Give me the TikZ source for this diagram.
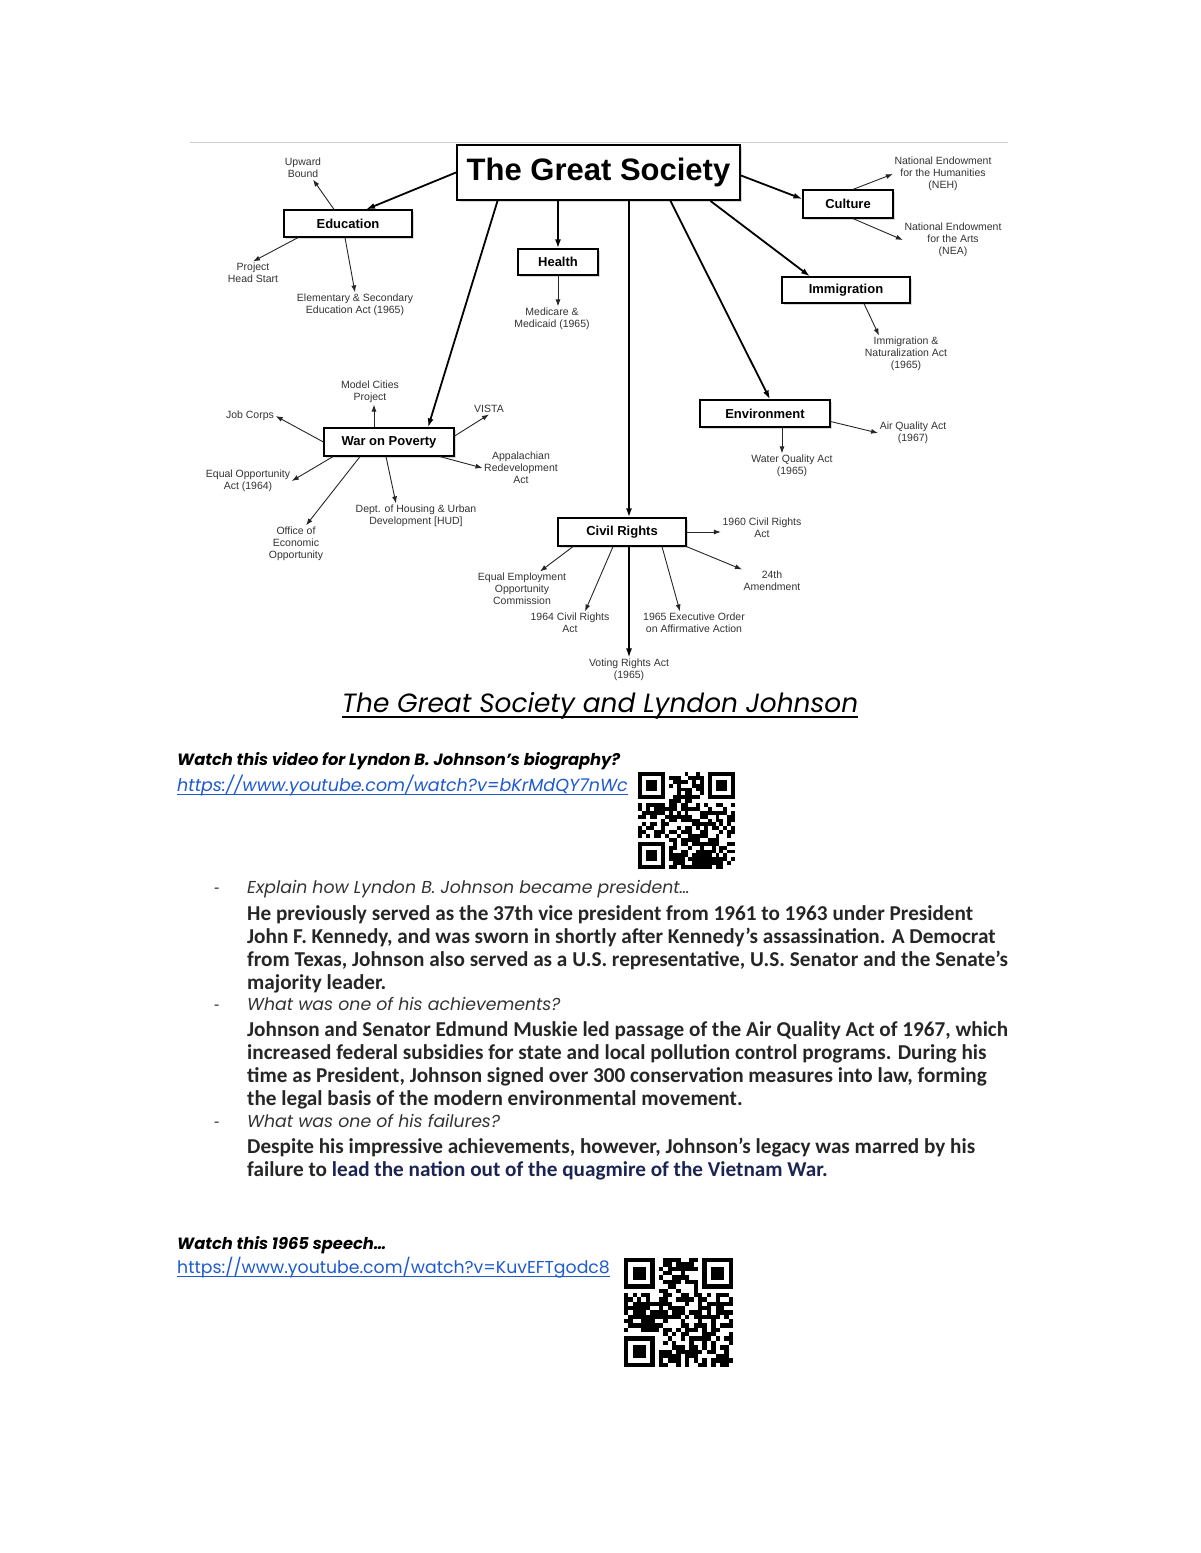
\documentclass[tikz,border=0pt]{standalone}
\usepackage{fontspec}
\setmainfont{Liberation Sans}
\newfontfamily\geofont{Poppins}
\newfontfamily\bodyfont{Carlito}
\usepackage{xcolor}
\usetikzlibrary{arrows.meta,positioning,shadows}

\definecolor{linkblue}{HTML}{1F5BD0}
\definecolor{bodygray}{HTML}{262626}
\definecolor{navytext}{HTML}{1C2552}

% QR-like block: x, y, module size, seed
\newcommand{\qrblock}[4]{%
  \pgfmathsetseed{#4}
  \foreach \i in {0,...,24}{
    \foreach \j in {0,...,24}{
      \pgfmathrandominteger{\qrbit}{0}{4}
      \pgfmathtruncatemacro{\infinder}{(\i<8 && \j<8) || (\i>16 && \j<8) || (\i<8 && \j>16)}
      \ifnum\infinder=0 \ifnum\qrbit>1
        \fill (#1+\i*#3, #2+\j*#3) rectangle ++(#3,#3);
      \fi\fi
    }
  }
  \foreach \a/\b in {0/0, 18/0, 0/18}{
    \fill (#1+\a*#3, #2+\b*#3) rectangle ++(7*#3, 7*#3);
    \fill[white] (#1+\a*#3+#3, #2+\b*#3+#3) rectangle ++(5*#3, 5*#3);
    \fill (#1+\a*#3+2*#3, #2+\b*#3+2*#3) rectangle ++(3*#3, 3*#3);
  }
}

\begin{document}
\begin{tikzpicture}[x=1pt, y=-1pt,
    topic/.style={draw, line width=1.2pt, fill=white, minimum height=27pt, inner sep=2pt,
      font=\bfseries\fontsize{13}{15}\selectfont,
      drop shadow={shadow xshift=1.5pt, shadow yshift=-1.5pt, fill=black!30}},
    leaf/.style={align=center, inner sep=1.5pt, text=black!80, font=\fontsize{10.5}{12}\selectfont},
    trunk/.style={line width=1.8pt, -{Latex[length=9pt,width=6pt]}},
    twig/.style={line width=0.9pt, black!85, -{Latex[length=7pt,width=5pt]}},
    prompt/.style={anchor=base west, inner sep=0, text=black!80, font=\geofont\itshape\fontsize{17.3}{20}\selectfont},
    answer/.style={anchor=north west, inner sep=0, align=left, text=bodygray, font=\bodyfont\bfseries\fontsize{21.2}{23}\selectfont},
    weblink/.style={anchor=base west, inner sep=0, text=linkblue, font=\geofont\fontsize{17.3}{20}\selectfont},
    heading/.style={anchor=base west, inner sep=0, text=black, font=\geofont\bfseries\itshape\fontsize{16.3}{18}\selectfont},
]
    \fill[white] (0,0) rectangle (1200,1553);
    \useasboundingbox (0,0) rectangle (1200,1553);

    % rule above the chart
    \draw[black!20, line width=1pt] (190,142) -- (1008,142);

    % topic boxes
    \node[topic, line width=2pt, minimum width=283pt, minimum height=55pt,
      font=\bfseries\fontsize{31}{36}\selectfont] (gs) at (598.5,172.5) {The Great Society};
    \node[topic, minimum width=128pt] (edu) at (348,223.5) {Education};
    \node[topic, minimum width=80pt, minimum height=26pt] (health) at (558,262) {Health};
    \node[topic, minimum width=90pt, minimum height=28pt] (cult) at (848,204) {Culture};
    \node[topic, minimum width=128pt, minimum height=26pt] (immig) at (846,290) {Immigration};
    \node[topic, minimum width=130pt] (env) at (765,413.5) {Environment};
    \node[topic, minimum width=130pt, minimum height=28pt] (wop) at (389,442) {War on Poverty};
    \node[topic, minimum width=128pt, minimum height=28pt] (civil) at (622,532) {Civil Rights};

    % programs and acts
    \node[leaf] (upbound) at (303,168) {Upward\\Bound};
    \node[leaf] (headstart) at (253,273) {Project\\Head Start};
    \node[leaf] (esea) at (355,305) {Elementary \& Secondary\\Education Act (1965)};
    \node[leaf] (medicare) at (552,319) {Medicare \&\\Medicaid (1965)};
    \node[leaf] (neh) at (943,174) {National Endowment\\for the Humanities\\(NEH)};
    \node[leaf] (nea) at (953,240) {National Endowment\\for the Arts\\(NEA)};
    \node[leaf] (ina) at (906,354) {Immigration \&\\Naturalization Act\\(1965)};
    \node[leaf] (airq) at (913,433) {Air Quality Act\\(1967)};
    \node[leaf] (waterq) at (792,466) {Water Quality Act\\(1965)};
    \node[leaf] (model) at (370,392) {Model Cities\\Project};
    \node[leaf] (jobcorps) at (250,416) {Job Corps};
    \node[leaf] (vista) at (489,409) {VISTA};
    \node[leaf] (eoa) at (248,481) {Equal Opportunity\\Act (1964)};
    \node[leaf] (appal) at (521,468) {Appalachian\\Redevelopment\\Act};
    \node[leaf] (hud) at (416,516) {Dept. of Housing \& Urban\\Development [HUD]};
    \node[leaf] (oeo) at (296,544) {Office of\\Economic\\Opportunity};
    \node[leaf] (cr60) at (762,528) {1960 Civil Rights\\Act};
    \node[leaf] (eeoc) at (522,589) {Equal Employment\\Opportunity\\Commission};
    \node[leaf] (amend) at (772,581) {24th\\Amendment};
    \node[leaf] (cr64) at (570,623) {1964 Civil Rights\\Act};
    \node[leaf] (exec) at (694,623) {1965 Executive Order\\on Affirmative Action};
    \node[leaf] (voting) at (629,670) {Voting Rights Act\\(1965)};

    % main branches
    \draw[trunk] (gs.west) -- ([xshift=18pt]edu.north);
    \draw[trunk] (gs.south -| health.north) -- (health.north);
    \draw[trunk] ([xshift=-101pt]gs.south) -- ([xshift=39pt]wop.north);
    \draw[trunk] (gs.south -| voting.north) -- (civil.north -| voting.north);
    \draw[trunk] ([xshift=72pt]gs.south) -- ([xshift=5pt]env.north);
    \draw[trunk] ([xshift=112pt]gs.south) -- ([xshift=-36pt]immig.north);
    \draw[trunk] ([yshift=-3pt]gs.east) -- ([yshift=5pt]cult.west);

    % education
    \draw[twig] ([xshift=-14pt]edu.north) -- ([xshift=10pt]upbound.south);
    \draw[twig] ([xshift=-50pt]edu.south) -- (headstart.north);
    \draw[twig] ([xshift=-3pt]edu.south) -- (esea.north);
    % health
    \draw[twig] (health.south) -- (health.south |- medicare.north);
    % culture
    \draw[twig] ([xshift=5pt]cult.north) -- (neh.west);
    \draw[twig] ([xshift=5pt]cult.south) -- (nea.west);
    % immigration
    \draw[twig] ([xshift=18pt]immig.south) -- ([xshift=-27pt]ina.north);
    % environment
    \draw[twig] ([xshift=17pt]env.south) -- ([xshift=17pt]env.south |- waterq.north);
    \draw[twig] ([yshift=-8pt]env.east) -- (airq.west);
    % war on poverty
    \draw[twig] ([xshift=-15pt]wop.north) -- ([xshift=4pt]model.south);
    \draw[twig] (wop.west) -- (jobcorps.east);
    \draw[twig] ([yshift=6pt]wop.east) -- (vista.south);
    \draw[twig] ([xshift=51pt]wop.south) -- (appal.west);
    \draw[twig] ([xshift=-3pt]wop.south) -- ([xshift=-20pt]hud.north);
    \draw[twig] ([xshift=-56pt]wop.south) -- (eoa.east);
    \draw[twig] ([xshift=-29pt]wop.south) -- ([xshift=10pt]oeo.north);
    % civil rights
    \draw[twig] (civil.east) -- (civil.east -| cr60.west);
    \draw[twig] ([xshift=-49pt]civil.south) -- ([xshift=18pt]eeoc.north);
    \draw[twig] ([xshift=-9pt]civil.south) -- ([xshift=15pt]cr64.north);
    \draw[twig] ([xshift=40pt]civil.south) -- ([xshift=-14pt]exec.north);
    \draw[twig] (civil.south east) -- (amend.north west);
    \draw[trunk, line width=1.4pt] (civil.south -| voting.north) -- (voting.north);

    % worksheet title
    \node[anchor=base, inner sep=0, font=\geofont\itshape\fontsize{26.4}{30}\selectfont] (title) at (600,712)
      {The Great Society and Lyndon Johnson};
    \draw[line width=1.8pt] ([yshift=-5pt]title.base west) -- ([yshift=-5pt]title.base east);

    % first video
    \node[heading] (watchbio) at (177,765) {Watch this video for Lyndon B. Johnson’s biography?};
    \node[weblink, font=\geofont\itshape\fontsize{17.5}{20}\selectfont] (linkbio) at (177,791)
      {https://www.youtube.com/watch?v=bKrMdQY7nWc};
    \draw[linkblue, line width=0.8pt] ([yshift=-3pt]linkbio.base west) -- ([yshift=-3pt]linkbio.base east);
    \qrblock{638}{772}{3.88}{41}

    % questions and answers
    \node[prompt, font=\bodyfont\fontsize{17}{20}\selectfont] (dasha) at (214,893) {-};
    \node[prompt] (qpres) at (247,893) {Explain how Lyndon B. Johnson became president…};
    \node[answer] (apres) at (247,905) {He previously served as the 37th vice president from 1961 to 1963 under President\\
      John F. Kennedy, and was sworn in shortly after Kennedy’s assassination. A Democrat\\
      from Texas, Johnson also served as a U.S. representative, U.S. Senator and the Senate’s\\
      majority leader.};
    \node[prompt, font=\bodyfont\fontsize{17}{20}\selectfont] (dashb) at (214,1010) {-};
    \node[prompt] (qwin) at (247,1010) {What was one of his achievements?};
    \node[answer] (awin) at (247,1021) {Johnson and Senator Edmund Muskie led passage of the Air Quality Act of 1967, which\\
      increased federal subsidies for state and local pollution control programs. During his\\
      time as President, Johnson signed over 300 conservation measures into law, forming\\
      the legal basis of the modern environmental movement.};
    \node[prompt, font=\bodyfont\fontsize{17}{20}\selectfont] (dashc) at (214,1127) {-};
    \node[prompt] (qfail) at (247,1127) {What was one of his failures?};
    \node[answer] (afail) at (247,1138) {Despite his impressive achievements, however, Johnson’s legacy was marred by his\\
      failure to \textcolor{navytext}{lead the nation out of the quagmire of the Vietnam War.}};

    % second video
    \node[heading] (watchspeech) at (177,1249) {Watch this 1965 speech…};
    \node[weblink] (linkspeech) at (177,1273) {https://www.youtube.com/watch?v=KuvEFTgodc8};
    \draw[linkblue, line width=0.8pt] ([yshift=-3pt]linkspeech.base west) -- ([yshift=-3pt]linkspeech.base east);
    \qrblock{624}{1258}{4.36}{97}
\end{tikzpicture}
\end{document}
